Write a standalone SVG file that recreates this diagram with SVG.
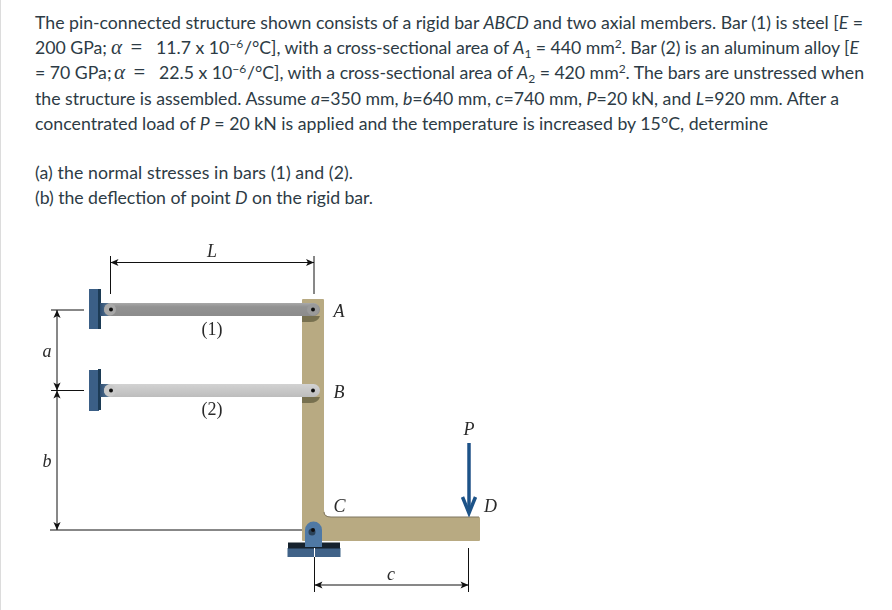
<svg xmlns="http://www.w3.org/2000/svg" width="892" height="610" viewBox="0 0 892 610">
<defs>
<marker id="open" viewBox="-9 -5 10 10" markerWidth="10" markerHeight="10" refX="0" refY="0" orient="auto-start-reverse" markerUnits="userSpaceOnUse"><path d="M-8,-3.6 L0,0 L-8,3.6 L-6,0 Z" fill="#111"/></marker>
<linearGradient id="bar1" x1="0" y1="0" x2="0" y2="1"><stop offset="0" stop-color="#a8a8a8"/><stop offset=".3" stop-color="#929292"/><stop offset="1" stop-color="#8c8c8c"/></linearGradient>
<linearGradient id="bar2" x1="0" y1="0" x2="0" y2="1"><stop offset="0" stop-color="#d2d2d2"/><stop offset="1" stop-color="#bdbdbd"/></linearGradient>
<linearGradient id="lug" x1="0" y1="0" x2="1" y2="0"><stop offset="0" stop-color="#2d4d70"/><stop offset="1" stop-color="#7a95ae"/></linearGradient>
<filter id="blur" x="-5%" y="-5%" width="110%" height="110%"><feGaussianBlur stdDeviation="0.6"/></filter>
<filter id="soft" x="-5%" y="-5%" width="110%" height="110%"><feGaussianBlur stdDeviation="0.35"/></filter>
</defs>
<style>
.t{font-family:"Lato","Carlito","Liberation Sans",sans-serif;font-size:17.7px;fill:#2d3b45}
.i{font-style:italic}
.m{font-family:"Liberation Serif",serif;font-style:italic;font-size:21px}
.s{font-size:12px}
.l{font-family:"Liberation Serif",serif;font-size:18px;fill:#2a2a2a}
.li{font-style:italic}
.d{stroke:#111;stroke-width:1;fill:none}
.a{marker-start:url(#open);marker-end:url(#open)}
.plate{fill:#3a5f86}
.plated{fill:#1f3b55}
.pin{fill:#111}
</style>
<rect x="0" y="0" width="892" height="610" fill="#fff"/>
<path d="M0.500,0 V610" stroke="#dcdcdc" stroke-width="1"/>
<g id="problem-text">
<text class="t" x="35" y="29" textLength="828" lengthAdjust="spacing">The pin-connected structure shown consists of a rigid bar <tspan class="i">ABCD</tspan> and two axial members. Bar (1) is steel [<tspan class="i">E</tspan> =</text>
<text class="t" x="35" y="54">200 GPa;</text>
<text class="t m" x="111" y="54">α</text>
<text class="t" x="130" y="54" style="font-size:22px">=</text>
<text class="t" x="156" y="54">11.7 x 10<tspan class="s" dy="-6">−6</tspan></text>
<text class="t" x="244" y="54" textLength="615" lengthAdjust="spacing">/°C], with a cross-sectional area of <tspan class="i">A</tspan><tspan class="s" dy="4">1</tspan><tspan dy="-4"> = 440 mm</tspan><tspan class="s" dy="-6">2</tspan><tspan dy="6">. Bar (2) is an aluminum alloy [</tspan><tspan class="i">E</tspan></text>
<text class="t" x="35" y="79">= 70 GPa;</text>
<text class="t m" x="114" y="79">α</text>
<text class="t" x="133" y="79" style="font-size:22px">=</text>
<text class="t" x="159" y="79">22.5 x 10<tspan class="s" dy="-6">−6</tspan></text>
<text class="t" x="247" y="79" textLength="617" lengthAdjust="spacing">/°C], with a cross-sectional area of <tspan class="i">A</tspan><tspan class="s" dy="4">2</tspan><tspan dy="-4"> = 420 mm</tspan><tspan class="s" dy="-6">2</tspan><tspan dy="6">. The bars are unstressed when</tspan></text>
<text class="t" x="35" y="104.500" textLength="804" lengthAdjust="spacing">the structure is assembled. Assume <tspan class="i">a</tspan>=350 mm, <tspan class="i">b</tspan>=640 mm, <tspan class="i">c</tspan>=740 mm, <tspan class="i">P</tspan>=20 kN, and <tspan class="i">L</tspan>=920 mm. After a</text>
<text class="t" x="35" y="129.500" textLength="733" lengthAdjust="spacing">concentrated load of <tspan class="i">P</tspan> = 20 kN is applied and the temperature is increased by 15°C, determine</text>
<text class="t" x="35" y="179" textLength="318" lengthAdjust="spacing">(a) the normal stresses in bars (1) and (2).</text>
<text class="t" x="35" y="204" textLength="338" lengthAdjust="spacing">(b) the deflection of point <tspan class="i">D</tspan> on the rigid bar.</text>
</g>
<g id="rigid-bar-ABCD" filter="url(#blur)">
<path d="M303,299 H323 Q324,299 324,300 V510 Q324,517 331,517 H479 Q480,517 480,518 V540 Q480,541 479,541 H303 Q302,541 302,540 V300 Q302,299 303,299 Z" fill="#b8aa82"/>
<path d="M324,512 Q324,517 331,517 H479" fill="none" stroke="#7f7660" stroke-width="1"/>
<path d="M302,316 H320 Q318,322 310,322 H302 Z" fill="#77704f"/>
<path d="M302,397 H320 Q318,403 310,403 H302 Z" fill="#77704f"/>
</g>
<g id="wall-support-1" filter="url(#blur)">
<rect class="plate" x="89" y="289" width="10" height="40"/>
<rect class="plated" x="98" y="289" width="3" height="40"/>
<rect x="100" y="303" width="14" height="13" fill="url(#lug)"/>
</g>
<g id="wall-support-2" filter="url(#blur)">
<rect class="plate" x="89" y="370" width="10" height="41"/>
<rect class="plated" x="98" y="369" width="3" height="41"/>
<rect x="100" y="384" width="14" height="13" fill="url(#lug)"/>
</g>
<g id="bar-1" filter="url(#blur)">
<rect x="104" y="303" width="216" height="13" rx="6.500" fill="url(#bar1)"/>
<circle cx="110" cy="309.500" r="6" fill="#a9a9a9"/>
<circle cx="313" cy="309.500" r="6" fill="#9a9a9a"/>
<circle class="pin" cx="111" cy="309.500" r="2"/>
<circle class="pin" cx="313" cy="309.500" r="2"/>
</g>
<g id="bar-2" filter="url(#blur)">
<rect x="104" y="384" width="216" height="13" rx="6.500" fill="url(#bar2)"/>
<circle cx="110" cy="390.500" r="6" fill="#c9c9c9"/>
<circle class="pin" cx="111" cy="390.500" r="2"/>
<circle class="pin" cx="313" cy="390.500" r="2"/>
</g>
<g id="pin-support-C" filter="url(#blur)">
<rect x="287.500" y="548" width="53" height="9" fill="#3f6288"/>
<rect x="288" y="542.500" width="52" height="6" fill="#14222e"/>
<path d="M305,547 V530 A8.500,8.500 0 0 1 322,530 V547 Z" fill="#4f79a5"/>
<circle cx="312" cy="532" r="3.500" fill="#2c4258"/>
<circle class="pin" cx="313" cy="530" r="2"/>
</g>
<g id="connectors">
<path class="d" d="M110.500,256 V294 M314,256 V294"/>
<path class="d a" d="M110.500,262.500 H314"/>
<path class="d" d="M51,310 H84 M51,390.500 H84 M50,530 H302"/>
<path class="d a" d="M57,310 V390.500"/>
<path class="d a" d="M57,390.500 V530"/>
<path d="M314.500,548 V557" stroke="#fff" stroke-width="1" fill="none"/>
<path class="d" d="M314.500,557 V592 M468.500,548 V592"/>
<path class="d a" d="M314.500,585 H468.500"/>
<g filter="url(#soft)">
<path d="M469,443 V512" stroke="#1f5288" stroke-width="3.500" fill="none"/>
<path d="M462.500,497 L469,513 L475.500,497" stroke="#1f5288" stroke-width="3.500" fill="none"/>
</g>
</g>
<g id="labels" filter="url(#soft)">
<text class="l li" x="212" y="256.500" text-anchor="middle">L</text>
<text class="l li" x="339" y="316.500" text-anchor="middle">A</text>
<text class="l" x="212" y="335" text-anchor="middle">(1)</text>
<text class="l li" x="47" y="356.500" text-anchor="middle">a</text>
<text class="l li" x="339" y="397.500" text-anchor="middle">B</text>
<text class="l" x="212" y="415" text-anchor="middle">(2)</text>
<text class="l li" x="47" y="466.500" text-anchor="middle">b</text>
<text class="l li" x="469" y="435" text-anchor="middle">P</text>
<text class="l li" x="339.500" y="511.500" text-anchor="middle">C</text>
<text class="l li" x="490.500" y="511.500" text-anchor="middle">D</text>
<text class="l li" x="391" y="580" text-anchor="middle">c</text>
</g>
</svg>
